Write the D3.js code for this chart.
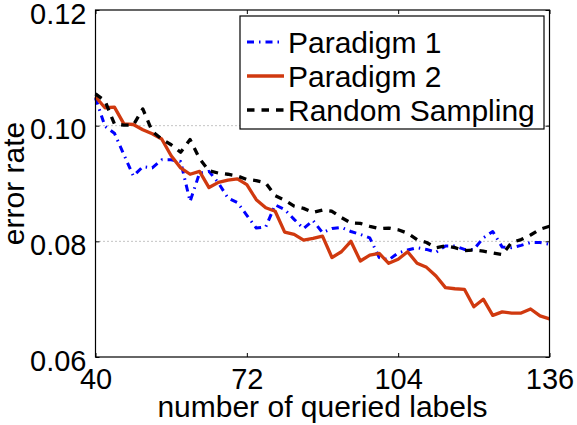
<!DOCTYPE html>
<html>
<head>
<meta charset="utf-8">
<script src="https://cdn.jsdelivr.net/npm/d3@7"></script>
<style>
  body { margin: 0; background: #fff; }
  svg { display: block; font-family: "Liberation Sans", Arial, sans-serif; }
</style>
</head>
<body>
<div id="chart"></div>
<script>
// number of queried labels: 40, 42, ... 136
const queried = d3.range(40, 137, 2);

const paradigm1 = [
  0.1048, 0.0999, 0.0987, 0.0950, 0.0913, 0.0929, 0.0927, 0.0941, 0.0941, 0.0938,
  0.0869, 0.0918, 0.0921, 0.0901, 0.0875, 0.0867, 0.0845, 0.0823, 0.0825, 0.0863,
  0.0855, 0.0838, 0.0822, 0.0836, 0.0815, 0.0822, 0.0824, 0.0817, 0.0812, 0.0806,
  0.0772, 0.0768, 0.0780, 0.0785, 0.0789, 0.0786, 0.0781, 0.0792, 0.0792, 0.0786,
  0.0786, 0.0806, 0.0817, 0.0790, 0.0789, 0.0793, 0.0798, 0.0798, 0.0795
];

const paradigm2 = [
  0.1050, 0.1031, 0.1032, 0.1003, 0.1002, 0.0993, 0.0986, 0.0977, 0.0948, 0.0927,
  0.0916, 0.0921, 0.0893, 0.0902, 0.0906, 0.0908, 0.0898, 0.0872, 0.0858, 0.0852,
  0.0816, 0.0812, 0.0802, 0.0805, 0.0809, 0.0772, 0.0782, 0.0800, 0.0766, 0.0776,
  0.0779, 0.0762, 0.0769, 0.0782, 0.0762, 0.0755, 0.0740, 0.0720, 0.0718, 0.0717,
  0.0687, 0.0700, 0.0672, 0.0678, 0.0676, 0.0676, 0.0683, 0.0671, 0.0666
];

const randomSampling = [
  0.1055, 0.1043, 0.1003, 0.1001, 0.1001, 0.1029, 0.0990, 0.0977, 0.0967, 0.0954,
  0.0976, 0.0943, 0.0922, 0.0918, 0.0916, 0.0913, 0.0907, 0.0905, 0.0901, 0.0879,
  0.0871, 0.0861, 0.0857, 0.0850, 0.0854, 0.0852, 0.0841, 0.0832, 0.0831, 0.0826,
  0.0822, 0.0823, 0.0820, 0.0814, 0.0803, 0.0798, 0.0789, 0.0792, 0.0789, 0.0784,
  0.0785, 0.0783, 0.0780, 0.0777, 0.0798, 0.0803, 0.0811, 0.0821, 0.0826
];

const xTicks = [40, 72, 104, 136];
const yTicks = [0.06, 0.08, 0.10, 0.12];
const seriesNames = ["Paradigm 1", "Paradigm 2", "Random Sampling"];

const margin = { top: 10, right: 27.5, bottom: 68, left: 95.5 },
    width = 577 - margin.left - margin.right,
    height = 425 - margin.top - margin.bottom;

const root = d3.select("#chart")
    .append("svg")
    .attr("width", 577)
    .attr("height", 425);

const svg = root.append("g")
    .attr("transform", `translate(${margin.left},${margin.top})`);

const x = d3.scaleLinear().domain([40, 136]).range([0, width]);
const y = d3.scaleLinear().domain([0.06, 0.12]).range([height, 0]);

// dotted grid lines (horizontal only)
svg.append("g")
    .selectAll("line")
    .data(yTicks.slice(1, -1))
    .enter()
    .append("line")
    .attr("x1", 0)
    .attr("x2", width)
    .attr("y1", d => y(d))
    .attr("y2", d => y(d))
    .attr("stroke", "#888")
    .attr("stroke-width", 1)
    .attr("stroke-dasharray", "1,3");

// axes with inward ticks
const tickLen = 4;
const fmtY = d3.format(".2f");

const xAxis = svg.append("g")
    .attr("transform", `translate(0,${height})`)
    .call(d3.axisBottom(x).tickValues(xTicks).tickSize(-tickLen).tickPadding(7 + tickLen).tickFormat(d3.format("d")));
xAxis.selectAll("text").attr("font-size", 29).attr("fill", "#000");

svg.append("g")
    .call(d3.axisTop(x).tickValues(xTicks).tickSize(-tickLen).tickFormat(""));

const yAxis = svg.append("g")
    .call(d3.axisLeft(y).tickValues(yTicks).tickSize(-tickLen).tickPadding(5 + tickLen).tickFormat(fmtY));
yAxis.selectAll("text").attr("font-size", 29).attr("fill", "#000").attr("dy", "0.45em");

svg.append("g")
    .attr("transform", `translate(${width},0)`)
    .call(d3.axisRight(y).tickValues(yTicks).tickSize(-tickLen).tickFormat(""));

svg.selectAll(".domain").remove();
svg.selectAll(".tick line").attr("stroke", "#000");

// series
const series = [
  { name: seriesNames[0], values: paradigm1, color: "#0000ff", width: 3, dash: "7,5,1.5,5" },
  { name: seriesNames[1], values: paradigm2, color: "#d0390f", width: 3.3, dash: null },
  { name: seriesNames[2], values: randomSampling, color: "#000000", width: 3.3, dash: "7.5,7" }
];

const line = d3.line()
    .x((d, i) => x(queried[i]))
    .y(d => y(d));

series.forEach(s => {
  svg.append("path")
      .datum(s.values)
      .attr("fill", "none")
      .attr("stroke", s.color)
      .attr("stroke-width", s.width)
      .attr("stroke-dasharray", s.dash)
      .attr("stroke-linejoin", "round")
      .attr("d", line);
});

// frame
svg.append("rect")
    .attr("width", width)
    .attr("height", height)
    .attr("fill", "none")
    .attr("stroke", "#000")
    .attr("stroke-width", 1.2);

// legend
const legend = svg.append("g")
    .attr("transform", `translate(${240 - margin.left},${16 - margin.top})`);

legend.append("rect")
    .attr("width", 304)
    .attr("height", 113)
    .attr("fill", "#fff")
    .attr("stroke", "#000")
    .attr("stroke-width", 1.2);

series.forEach((s, i) => {
  const cy = 26 + i * 34;
  legend.append("line")
      .attr("x1", 7)
      .attr("x2", 44)
      .attr("y1", cy)
      .attr("y2", cy)
      .attr("stroke", s.color)
      .attr("stroke-width", s.width)
      .attr("stroke-dasharray", s.dash);
  legend.append("text")
      .attr("x", 48)
      .attr("y", cy + 11)
      .attr("font-size", 30)
      .attr("fill", "#000")
      .text(s.name);
});

// axis labels
root.append("text")
    .attr("x", margin.left + width / 2)
    .attr("y", 417)
    .attr("text-anchor", "middle")
    .attr("font-size", 30)
    .text("number of queried labels");

root.append("text")
    .attr("transform", `translate(24,${margin.top + height / 2}) rotate(-90)`)
    .attr("text-anchor", "middle")
    .attr("font-size", 30)
    .text("error rate");
</script>
</body>
</html>
